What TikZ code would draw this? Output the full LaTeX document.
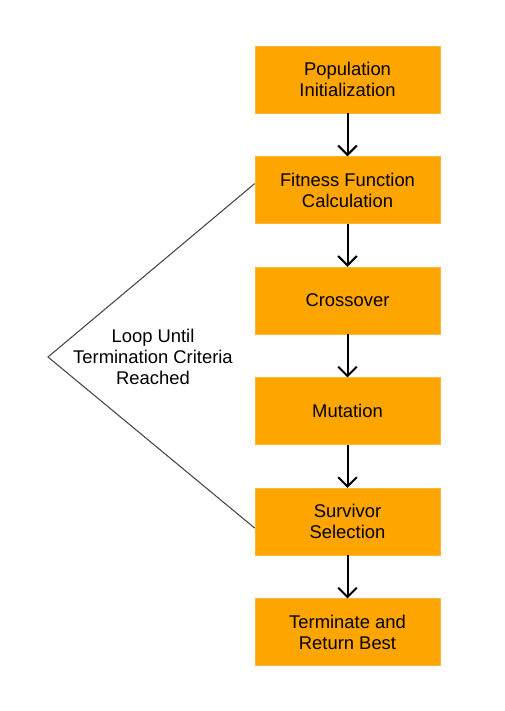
\documentclass[tikz,border=0pt]{standalone}
\usepackage{fontspec}
\setmainfont{Liberation Sans}
\usepackage{xcolor}
\usepackage{tikz}
\usetikzlibrary{positioning}
\usetikzlibrary{arrows.meta}
\definecolor{stepfill}{RGB}{255,165,0}
\definecolor{loopline}{RGB}{70,70,70}

\begin{document}
\begin{tikzpicture}[x=0.75pt,y=0.75pt,yscale=-1,xscale=1,
    stepbox/.style={draw=stepfill!80!white, fill=stepfill, minimum width=138.75pt, minimum height=50.25pt,
        inner sep=0.75pt, align=center, font=\fontsize{13.8}{15.75}\selectfont},
    flow/.style={-{Straight Barb[length=7pt,width=14pt,line width=1.5pt]}, line width=1.5pt, black},
    node distance=32.25pt]
        \useasboundingbox (0,0) rectangle (505,711);

        % Step boxes
        \node [stepbox] (init) at (347.5,79.5) {Population\\Initialization};
        \node [stepbox, below=of init] (fit) {Fitness Function\\Calculation};
        \node [stepbox, below=of fit] (cross) {Crossover};
        \node [stepbox, below=of cross] (mut) {Mutation};
        \node [stepbox, below=of mut] (surv) {Survivor\\Selection};
        \node [stepbox, below=of surv] (term) {Terminate and\\Return Best};

        % Arrows
        \draw [flow] (init) -- (fit);
        \draw [flow] (fit) -- (cross);
        \draw [flow] (cross) -- (mut);
        \draw [flow] (mut) -- (surv);
        \draw [flow] (surv) -- (term);

        % Loop bracket
        \coordinate (apex) at (48,357);
        \draw [loopline, line width=0.8pt] (fit.176) -- (apex) -- (surv.184);

        % Text Node
        \node [align=center, inner sep=0.75pt, font=\fontsize{13.8}{15.75}\selectfont] (looptext) at (153,357) {Loop Until\\Termination Criteria\\Reached};
    \end{tikzpicture}
\end{document}
